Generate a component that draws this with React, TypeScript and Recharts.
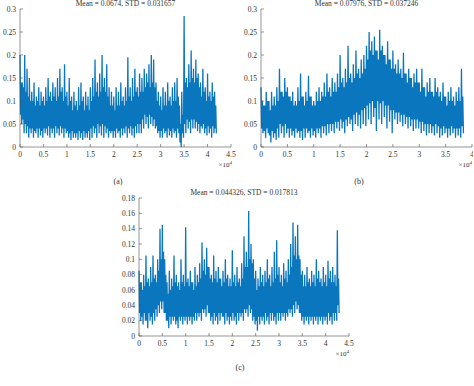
import React from 'react';
import { LineChart, Line, XAxis, YAxis } from 'recharts';

// samples between two read-off groups (x axis is sample index)
const STEP = 500;

// (a) spikes (high / low) and dense band (coreHi / coreLo), one group every 500 samples
const aHigh = [
  0.2, 0.14, 0.2, 0.17, 0.15, 0.12, 0.14, 0.11, 0.13, 0.12,
  0.11, 0.13, 0.15, 0.12, 0.14, 0.13, 0.15, 0.17, 0.13, 0.18,
  0.12, 0.15, 0.11, 0.12, 0.1, 0.13, 0.14, 0.11, 0.12, 0.11,
  0.13, 0.15, 0.19, 0.14, 0.16, 0.2, 0.15, 0.18, 0.13, 0.12,
  0.11, 0.13, 0.12, 0.14, 0.11, 0.13, 0.195, 0.13, 0.15, 0.17,
  0.13, 0.16, 0.15, 0.17, 0.16, 0.18, 0.2, 0.19, 0.14, 0.12,
  0.11, 0.13, 0.12, 0.14, 0.11, 0.13, 0.14, 0.15, 0.09, 0.12,
  0.285, 0.15, 0.18, 0.21, 0.17, 0.19, 0.16, 0.14, 0.17, 0.13,
  0.16, 0.12, 0.14, 0.12,
];
const aCoreHi = [
  0.14, 0.13, 0.12, 0.11, 0.1, 0.1, 0.09, 0.1, 0.09, 0.1,
  0.09, 0.1, 0.11, 0.1, 0.11, 0.1, 0.11, 0.12, 0.1, 0.11,
  0.09, 0.1, 0.08, 0.09, 0.08, 0.09, 0.1, 0.08, 0.09, 0.08,
  0.1, 0.11, 0.12, 0.11, 0.12, 0.13, 0.12, 0.11, 0.09, 0.09,
  0.08, 0.09, 0.09, 0.1, 0.09, 0.1, 0.11, 0.1, 0.11, 0.12,
  0.11, 0.12, 0.12, 0.13, 0.14, 0.13, 0.14, 0.13, 0.1, 0.09,
  0.08, 0.09, 0.09, 0.1, 0.09, 0.1, 0.1, 0.11, 0.05, 0.07,
  0.14, 0.13, 0.14, 0.15, 0.14, 0.15, 0.13, 0.11, 0.12, 0.1,
  0.11, 0.1, 0.11, 0.09,
];
const aCoreLo = [
  0.07, 0.06, 0.05, 0.045, 0.04, 0.04, 0.035, 0.04, 0.04, 0.035,
  0.04, 0.04, 0.045, 0.04, 0.04, 0.045, 0.04, 0.045, 0.04, 0.04,
  0.035, 0.03, 0.035, 0.03, 0.03, 0.035, 0.03, 0.035, 0.03, 0.035,
  0.04, 0.045, 0.04, 0.05, 0.045, 0.05, 0.045, 0.04, 0.035, 0.035,
  0.035, 0.04, 0.035, 0.04, 0.04, 0.045, 0.04, 0.045, 0.04, 0.045,
  0.05, 0.05, 0.06, 0.07, 0.065, 0.07, 0.065, 0.06, 0.045, 0.035,
  0.035, 0.04, 0.035, 0.04, 0.035, 0.04, 0.035, 0.04, 0.01, 0.03,
  0.05, 0.06, 0.055, 0.06, 0.06, 0.055, 0.05, 0.045, 0.05, 0.04,
  0.045, 0.04, 0.045, 0.04,
];
const aLow = [
  0.05, 0.03, 0.03, 0.02, 0.03, 0.02, 0.03, 0.02, 0.025, 0.02,
  0.03, 0.025, 0.02, 0.03, 0.02, 0.03, 0.025, 0.03, 0.02, 0.03,
  0.02, 0.015, 0.02, 0.02, 0.015, 0.02, 0.015, 0.02, 0.02, 0.015,
  0.02, 0.03, 0.02, 0.03, 0.025, 0.02, 0.03, 0.02, 0.03, 0.02,
  0.02, 0.03, 0.02, 0.025, 0.03, 0.02, 0.03, 0.025, 0.02, 0.03,
  0.03, 0.03, 0.04, 0.05, 0.04, 0.05, 0.045, 0.04, 0.03, 0.02,
  0.02, 0.03, 0.02, 0.025, 0.02, 0.03, 0.02, 0.03, 0.0, 0.02,
  0.03, 0.04, 0.03, 0.04, 0.04, 0.035, 0.03, 0.04, 0.03, 0.025,
  0.03, 0.02, 0.03, 0.03,
];

// (b)
const bHigh = [
  0.13, 0.09, 0.12, 0.1, 0.12, 0.11, 0.13, 0.17, 0.12, 0.15,
  0.13, 0.11, 0.12, 0.1, 0.13, 0.16, 0.11, 0.12, 0.155, 0.11,
  0.1, 0.12, 0.13, 0.12, 0.14, 0.16, 0.13, 0.15, 0.14, 0.16,
  0.2, 0.15, 0.17, 0.22, 0.16, 0.18, 0.21, 0.17, 0.19, 0.2,
  0.22, 0.25, 0.23, 0.24, 0.21, 0.255, 0.22, 0.2, 0.23, 0.19,
  0.21, 0.18, 0.19, 0.17, 0.205, 0.16, 0.17, 0.15, 0.16, 0.17,
  0.14, 0.17, 0.13, 0.14, 0.15, 0.12, 0.15, 0.13, 0.12, 0.14,
  0.11, 0.12, 0.13, 0.11, 0.12, 0.13, 0.17,
];
const bCoreHi = [
  0.1, 0.09, 0.1, 0.08, 0.09, 0.09, 0.1, 0.12, 0.11, 0.12,
  0.11, 0.1, 0.09, 0.09, 0.1, 0.11, 0.09, 0.1, 0.11, 0.09,
  0.09, 0.1, 0.1, 0.11, 0.11, 0.12, 0.11, 0.12, 0.12, 0.13,
  0.14, 0.13, 0.14, 0.15, 0.14, 0.15, 0.16, 0.15, 0.16, 0.17,
  0.19, 0.21, 0.2, 0.21, 0.19, 0.21, 0.2, 0.18, 0.19, 0.17,
  0.17, 0.16, 0.16, 0.15, 0.16, 0.14, 0.15, 0.13, 0.14, 0.14,
  0.12, 0.13, 0.11, 0.12, 0.12, 0.11, 0.12, 0.11, 0.1, 0.11,
  0.09, 0.1, 0.1, 0.09, 0.1, 0.1, 0.11,
];
const bCoreLo = [
  0.04, 0.035, 0.04, 0.025, 0.035, 0.03, 0.04, 0.05, 0.045, 0.05,
  0.04, 0.04, 0.035, 0.04, 0.035, 0.035, 0.04, 0.04, 0.035, 0.04,
  0.035, 0.04, 0.04, 0.045, 0.045, 0.05, 0.05, 0.05, 0.055, 0.055,
  0.06, 0.055, 0.06, 0.065, 0.06, 0.07, 0.075, 0.07, 0.08, 0.085,
  0.09, 0.095, 0.1, 0.085, 0.1, 0.095, 0.1, 0.09, 0.09, 0.08,
  0.08, 0.075, 0.075, 0.07, 0.07, 0.065, 0.065, 0.06, 0.06, 0.06,
  0.055, 0.055, 0.05, 0.05, 0.05, 0.045, 0.05, 0.045, 0.04, 0.045,
  0.04, 0.04, 0.045, 0.04, 0.04, 0.04, 0.045,
];
const bLow = [
  0.03, 0.02, 0.03, 0.01, 0.02, 0.015, 0.02, 0.03, 0.02, 0.03,
  0.02, 0.025, 0.02, 0.03, 0.02, 0.015, 0.02, 0.03, 0.02, 0.025,
  0.02, 0.03, 0.02, 0.03, 0.025, 0.03, 0.035, 0.03, 0.04, 0.035,
  0.04, 0.03, 0.045, 0.05, 0.035, 0.05, 0.045, 0.04, 0.05, 0.045,
  0.06, 0.05, 0.065, 0.035, 0.06, 0.05, 0.065, 0.04, 0.055, 0.03,
  0.06, 0.05, 0.055, 0.045, 0.05, 0.04, 0.045, 0.035, 0.04, 0.04,
  0.03, 0.035, 0.025, 0.03, 0.03, 0.025, 0.03, 0.02, 0.025, 0.03,
  0.02, 0.025, 0.03, 0.02, 0.025, 0.02, 0.03,
];

// (c)
const cHigh = [
  0.085, 0.07, 0.08, 0.105, 0.075, 0.09, 0.105, 0.08, 0.1, 0.14,
  0.145, 0.1, 0.07, 0.085, 0.075, 0.105, 0.08, 0.07, 0.1, 0.08,
  0.142, 0.075, 0.085, 0.07, 0.09, 0.08, 0.095, 0.122, 0.1, 0.115,
  0.09, 0.08, 0.105, 0.085, 0.09, 0.075, 0.085, 0.1, 0.08, 0.075,
  0.112, 0.08, 0.09, 0.075, 0.095, 0.13, 0.11, 0.163, 0.12, 0.1,
  0.085, 0.075, 0.09, 0.08, 0.085, 0.1, 0.08, 0.09, 0.11, 0.125,
  0.09, 0.08, 0.095, 0.085, 0.1, 0.12, 0.148, 0.13, 0.145, 0.1,
  0.085, 0.08, 0.09, 0.075, 0.085, 0.08, 0.1, 0.085, 0.075, 0.09,
  0.08, 0.098, 0.085, 0.09, 0.08, 0.138,
];
const cCoreHi = [
  0.07, 0.06, 0.065, 0.07, 0.065, 0.07, 0.075, 0.07, 0.085, 0.1,
  0.11, 0.08, 0.055, 0.06, 0.065, 0.07, 0.065, 0.06, 0.07, 0.065,
  0.07, 0.065, 0.07, 0.06, 0.065, 0.07, 0.075, 0.085, 0.08, 0.09,
  0.075, 0.07, 0.075, 0.07, 0.075, 0.065, 0.07, 0.075, 0.065, 0.065,
  0.07, 0.065, 0.07, 0.065, 0.075, 0.09, 0.09, 0.1, 0.095, 0.075,
  0.06, 0.065, 0.07, 0.065, 0.07, 0.075, 0.065, 0.07, 0.075, 0.08,
  0.07, 0.065, 0.075, 0.07, 0.08, 0.09, 0.105, 0.1, 0.105, 0.08,
  0.065, 0.065, 0.07, 0.065, 0.07, 0.065, 0.075, 0.07, 0.065, 0.07,
  0.065, 0.075, 0.07, 0.07, 0.065, 0.075,
];
const cCoreLo = [
  0.03, 0.025, 0.03, 0.02, 0.03, 0.025, 0.03, 0.035, 0.04, 0.045,
  0.045, 0.03, 0.02, 0.025, 0.025, 0.025, 0.02, 0.025, 0.025, 0.025,
  0.025, 0.025, 0.025, 0.025, 0.03, 0.03, 0.03, 0.035, 0.035, 0.04,
  0.03, 0.025, 0.03, 0.025, 0.03, 0.03, 0.025, 0.03, 0.025, 0.025,
  0.03, 0.025, 0.03, 0.03, 0.03, 0.035, 0.035, 0.04, 0.035, 0.025,
  0.02, 0.025, 0.025, 0.025, 0.03, 0.025, 0.03, 0.03, 0.025, 0.03,
  0.03, 0.03, 0.03, 0.03, 0.035, 0.035, 0.04, 0.045, 0.04, 0.03,
  0.025, 0.025, 0.025, 0.025, 0.025, 0.025, 0.025, 0.025, 0.025, 0.025,
  0.025, 0.03, 0.025, 0.03, 0.03, 0.04,
];
const cLow = [
  0.02, 0.015, 0.02, 0.01, 0.02, 0.015, 0.02, 0.025, 0.03, 0.035,
  0.03, 0.02, 0.01, 0.015, 0.02, 0.015, 0.01, 0.02, 0.015, 0.02,
  0.015, 0.02, 0.015, 0.02, 0.02, 0.025, 0.02, 0.03, 0.025, 0.03,
  0.02, 0.015, 0.02, 0.015, 0.02, 0.025, 0.015, 0.02, 0.015, 0.02,
  0.02, 0.015, 0.02, 0.025, 0.02, 0.03, 0.025, 0.03, 0.02, 0.015,
  0.007, 0.015, 0.02, 0.015, 0.02, 0.015, 0.02, 0.02, 0.015, 0.02,
  0.02, 0.025, 0.02, 0.025, 0.03, 0.025, 0.03, 0.035, 0.03, 0.02,
  0.015, 0.02, 0.015, 0.02, 0.015, 0.02, 0.015, 0.02, 0.015, 0.02,
  0.015, 0.02, 0.015, 0.02, 0.02, 0.03,
];

const xTicks45 = [0, 5000, 10000, 15000, 20000, 25000, 30000, 35000, 40000, 45000];
const xTicks40 = [0, 5000, 10000, 15000, 20000, 25000, 30000, 35000, 40000];
const yTicks30 = [0, 0.05, 0.1, 0.15, 0.2, 0.25, 0.3];
const yTicks18 = [0, 0.02, 0.04, 0.06, 0.08, 0.1, 0.12, 0.14, 0.16, 0.18];

const titles = [
  'Mean = 0.0674, STD = 0.031657',
  'Mean = 0.07976, STD = 0.037246',
  'Mean = 0.044326, STD = 0.017813',
];

const BLUE = '#0a76bd';
const AXIS = '#4d4d4d';
const FONT = '"Liberation Serif", "DejaVu Serif", serif';

// each group: spike up, band bottom, band top, spike down
const trace = (high: number[], coreHi: number[], coreLo: number[], low: number[]) =>
  high.flatMap((h, i) => [
    { x: i * STEP, v: h },
    { x: i * STEP + STEP / 4, v: coreLo[i] },
    { x: i * STEP + STEP / 2, v: coreHi[i] },
    { x: i * STEP + (3 * STEP) / 4, v: low[i] },
  ]);

const fmtX = (v: number) => String(v / 10000);
const fmtY = (v: number) => String(Number(v.toFixed(2)));

const tickStyle = { fontSize: 7.5, fill: '#333', fontFamily: FONT };

interface PanelProps {
  data: { x: number; v: number }[];
  xTicks: number[];
  yTicks: number[];
  left: number;
  top: number;
  width: number;
  rightMargin: number;
}

const Panel: React.FC<PanelProps> = ({ data, xTicks, yTicks, left, top, width, rightMargin }) => {
  const xMax = xTicks[xTicks.length - 1];
  const yMax = yTicks[yTicks.length - 1];
  return (
    <div style={{ position: 'absolute', left, top }}>
      <LineChart
        width={width}
        height={170}
        data={data}
        margin={{ top: 9, right: rightMargin, bottom: 0, left: 0 }}
      >
        <XAxis
          type="number"
          dataKey="x"
          domain={[0, xMax]}
          ticks={xTicks}
          tickFormatter={fmtX}
          height={23}
          tick={tickStyle}
          tickSize={-3}
          tickMargin={8}
          stroke={AXIS}
          strokeWidth={0.6}
          interval={0}
        />
        <XAxis
          xAxisId="top"
          orientation="top"
          type="number"
          dataKey="x"
          domain={[0, xMax]}
          ticks={xTicks}
          height={0}
          tick={false}
          tickSize={-3}
          stroke={AXIS}
          strokeWidth={0.6}
        />
        <YAxis
          type="number"
          domain={[0, yMax]}
          ticks={yTicks}
          tickFormatter={fmtY}
          width={20}
          tick={tickStyle}
          tickSize={-3}
          tickMargin={7}
          stroke={AXIS}
          strokeWidth={0.6}
          interval={0}
        />
        <YAxis
          yAxisId="right"
          orientation="right"
          type="number"
          domain={[0, yMax]}
          ticks={yTicks}
          width={0}
          tick={false}
          tickSize={-3}
          stroke={AXIS}
          strokeWidth={0.6}
        />
        <Line
          type="linear"
          dataKey="v"
          stroke={BLUE}
          strokeWidth={1.3}
          dot={false}
          isAnimationActive={false}
        />
      </LineChart>
    </div>
  );
};

const textBase: React.CSSProperties = {
  position: 'absolute',
  fontFamily: FONT,
  color: '#333',
  lineHeight: 1,
  whiteSpace: 'nowrap',
};

const Title: React.FC<{ text: string; cx: number; top: number }> = ({ text, cx, top }) => (
  <div style={{ ...textBase, fontSize: 7.5, left: cx - 100, width: 200, top, textAlign: 'center' }}>
    {text}
  </div>
);

const Exp: React.FC<{ right: number; top: number }> = ({ right, top }) => (
  <div style={{ ...textBase, fontSize: 7, right: 474 - right, top }}>
    ×10<sup style={{ fontSize: 5 }}>4</sup>
  </div>
);

const Tag: React.FC<{ text: string; cx: number; top: number }> = ({ text, cx, top }) => (
  <div style={{ ...textBase, fontSize: 8, left: cx - 20, width: 40, top, textAlign: 'center' }}>
    {text}
  </div>
);

export default function App() {
  return (
    <div
      style={{
        position: 'absolute',
        left: 0,
        top: 0,
        width: 474,
        height: 386,
        overflow: 'hidden',
        background: '#fff',
      }}
    >
      <Panel data={trace(aHigh, aCoreHi, aCoreLo, aLow)} xTicks={xTicks45} yTicks={yTicks30} left={0} top={0} width={240} rightMargin={9} />
      <Panel data={trace(bHigh, bCoreHi, bCoreLo, bLow)} xTicks={xTicks40} yTicks={yTicks30} left={241} top={0} width={232} rightMargin={1} />
      <Panel data={trace(cHigh, cCoreHi, cCoreLo, cLow)} xTicks={xTicks45} yTicks={yTicks18} left={119} top={189} width={239} rightMargin={9} />

      <Title text={titles[0]} cx={125.5} top={0} />
      <Title text={titles[1]} cx={366.5} top={0} />
      <Title text={titles[2]} cx={244} top={189} />

      <Exp right={232} top={160} />
      <Exp right={472} top={160} />
      <Exp right={349} top={349} />

      <Tag text="(a)" cx={118} top={178} />
      <Tag text="(b)" cx={359} top={178} />
      <Tag text="(c)" cx={240} top={364} />
    </div>
  );
}
